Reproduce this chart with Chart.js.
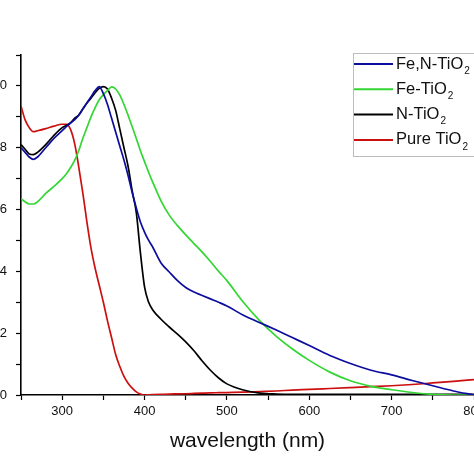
<!DOCTYPE html>
<html>
<head>
<meta charset="utf-8">
<script src="https://cdn.jsdelivr.net/npm/chart.js@4.4.1/dist/chart.umd.min.js"></script>
<style>
  html, body { margin: 0; padding: 0; background: #fff; overflow: hidden; }
  #wrap { position: absolute; left: -40px; top: 0; width: 544px; height: 474px; }
</style>
</head>
<body>
<div id="wrap"><canvas id="myChart" width="544" height="474"></canvas></div>
<script>
// wavelength grid (nm)
const wavelength = [250, 255, 260, 265, 270, 280, 290, 300, 305, 310, 315, 320, 325, 330, 335, 340, 345, 350, 355, 360,
  365, 370, 375, 380, 385, 390, 395, 400, 405, 410, 420, 430, 440, 450, 460, 470, 480, 490, 500, 520,
  540, 560, 580, 600, 625, 650, 675, 700, 725, 750, 775, 800];

// normalised absorbance
const feNTiO2 = [.80, .785, .77, .762, .77, .80, .83, .855, .868, .88, .89, .905, .925, .945, .965, .985, .998, .975, .94, .895,
  .85, .805, .76, .71, .655, .605, .56, .527, .50, .478, .427, .398, .37, .348, .333, .322, .311, .30, .288, .258,
  .234, .21, .185, .16, .128, .102, .08, .065, .047, .03, .013, 0];
const feTiO2 = [.635, .625, .618, .618, .625, .652, .675, .70, .715, .735, .758, .79, .83, .865, .90, .93, .955, .972, .985, .997,
  .99, .97, .94, .905, .868, .83, .79, .755, .72, .688, .628, .582, .548, .518, .49, .462, .432, .40, .37, .30,
  .24, .19, .148, .112, .074, .046, .028, .017, .008, .002, 0, 0];
const nTiO2 = [.81, .795, .78, .778, .785, .81, .84, .865, .872, .88, .895, .905, .925, .945, .96, .978, .992, .998, .99, .96,
  .92, .86, .80, .74, .66, .59, .46, .35, .30, .275, .245, .22, .197, .172, .143, .11, .08, .055, .036, .016,
  .006, .003, .002, .002, .002, .002, .002, .002, .002, .002, .002, .002];
const pureTiO2 = [.935, .89, .865, .852, .855, .862, .87, .876, .876, .86, .815, .74, .655, .56, .475, .41, .355, .30, .24, .185,
  .13, .092, .06, .038, .022, .01, .003, 0, .0005, .001, .002, .003, .0035, .004, .005, .006, .007, .0075, .008, .009,
  .011, .013, .016, .018, .021, .024, .027, .03, .034, .039, .044, .05];

const seriesNames = ['Fe,N-TiO₂', 'Fe-TiO₂', 'N-TiO₂', 'Pure TiO₂'];
const seriesColors = ['#0c0c9e', '#33d633', '#000000', '#cc1010'];
const xLabelValues = [300, 400, 500, 600, 700, 800];
const yLabelValues = [0, 0.2, 0.4, 0.6, 0.8, 1.0];

const FONT = "Arial, 'Liberation Sans', sans-serif";

function toPoints(ys) {
  return wavelength.map((x, i) => ({ x: x, y: ys[i] }));
}

// legend box sitting inside the plot, top right
const boxLegend = {
  id: 'boxLegend',
  afterDraw(chart) {
    const ctx = chart.ctx;
    const left = 393, top = 53, w = 127, h = 103;
    ctx.save();
    ctx.strokeStyle = '#bdbdbd';
    ctx.lineWidth = 1;
    ctx.strokeRect(left + 0.5, top + 0.5, w, h);
    chart.data.datasets.forEach((ds, i) => {
      const y = 64 + i * 25.3;
      ctx.strokeStyle = ds.borderColor;
      ctx.lineWidth = 2;
      ctx.beginPath();
      ctx.moveTo(left + 1, y);
      ctx.lineTo(left + 40, y);
      ctx.stroke();
      const parts = ds.label.split('₂');
      ctx.fillStyle = '#111';
      ctx.textBaseline = 'middle';
      ctx.font = '16.5px ' + FONT;
      ctx.fillText(parts[0], left + 43, y);
      const tw = ctx.measureText(parts[0]).width;
      ctx.font = '10px ' + FONT;
      ctx.fillText('2', left + 43 + tw + 1, y + 7);
    });
    ctx.restore();
  }
};

new Chart(document.getElementById('myChart').getContext('2d'), {
  type: 'line',
  data: {
    datasets: [
      { label: seriesNames[0], data: toPoints(feNTiO2), borderColor: seriesColors[0] },
      { label: seriesNames[1], data: toPoints(feTiO2), borderColor: seriesColors[1] },
      { label: seriesNames[2], data: toPoints(nTiO2), borderColor: seriesColors[2] },
      { label: seriesNames[3], data: toPoints(pureTiO2), borderColor: seriesColors[3] }
    ]
  },
  options: {
    responsive: false,
    animation: false,
    events: [],
    layout: { padding: { top: 55, right: 30, left: 0, bottom: 0 } },
    elements: {
      point: { radius: 0 },
      line: { borderWidth: 1.7, tension: 0.3, cubicInterpolationMode: 'monotone', fill: false }
    },
    plugins: {
      legend: { display: false },
      tooltip: { enabled: false }
    },
    scales: {
      x: {
        type: 'linear',
        min: 250,
        max: 800,
        afterFit(scale) { scale.height = 79; scale.paddingLeft = 0; scale.paddingRight = 0; },
        border: { display: true, color: '#000', width: 1.6 },
        grid: { drawOnChartArea: false, drawTicks: true, tickLength: 5, color: '#000', tickWidth: 1.2 },
        ticks: {
          stepSize: 50,
          autoSkip: false,
          maxRotation: 0,
          padding: 4,
          color: '#111',
          font: { family: FONT, size: 13 },
          callback: v => xLabelValues.includes(v) ? String(v) : ''
        },
        title: {
          display: true,
          text: 'wavelength (nm)',
          color: '#111',
          font: { family: FONT, size: 21 },
          padding: { top: 4, bottom: 20 }
        }
      },
      y: {
        min: 0,
        max: 1.1,
        afterFit(scale) { scale.width = 61; scale.paddingTop = 0; scale.paddingBottom = 0; },
        border: { display: true, color: '#000', width: 1.6 },
        grid: { drawOnChartArea: false, drawTicks: true, tickLength: 5, color: '#000', tickWidth: 1.2 },
        ticks: {
          stepSize: 0.1,
          autoSkip: false,
          padding: 9,
          color: '#111',
          font: { family: FONT, size: 13 },
          callback: v => yLabelValues.some(t => Math.abs(t - v) < 1e-6) ? v.toFixed(1) : ''
        }
      }
    }
  },
  plugins: [boxLegend]
});
</script>
</body>
</html>
